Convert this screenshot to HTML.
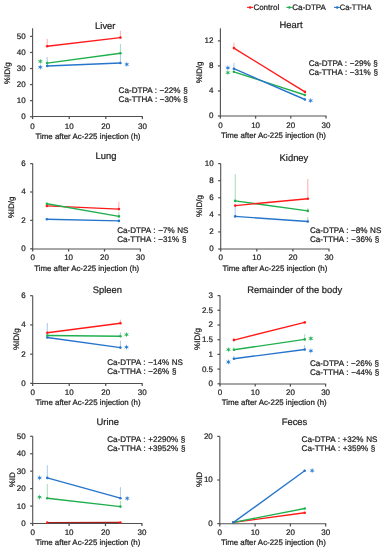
<!DOCTYPE html>
<html><head><meta charset="utf-8"><style>
html,body{margin:0;padding:0;background:#fff;}
svg{display:block;font-family:"Liberation Sans", sans-serif;will-change:transform;filter:blur(0.35px);}
text{text-rendering:geometricPrecision;}
</style></head><body>
<svg width="382" height="550" viewBox="0 0 382 550">
<rect width="382" height="550" fill="#fff"/>
<line x1="32.60" y1="28.37" x2="32.60" y2="117.00" stroke="#505050" stroke-width="1.1" />
<line x1="32.10" y1="116.50" x2="142.90" y2="116.50" stroke="#505050" stroke-width="1.1" />
<line x1="30.10" y1="116.70" x2="32.60" y2="116.70" stroke="#505050" stroke-width="1.25" />
<line x1="30.10" y1="100.64" x2="32.60" y2="100.64" stroke="#505050" stroke-width="1.25" />
<line x1="30.10" y1="84.58" x2="32.60" y2="84.58" stroke="#505050" stroke-width="1.25" />
<line x1="30.10" y1="68.52" x2="32.60" y2="68.52" stroke="#505050" stroke-width="1.25" />
<line x1="30.10" y1="52.46" x2="32.60" y2="52.46" stroke="#505050" stroke-width="1.25" />
<line x1="30.10" y1="36.40" x2="32.60" y2="36.40" stroke="#505050" stroke-width="1.25" />
<line x1="32.60" y1="116.50" x2="32.60" y2="119.10" stroke="#505050" stroke-width="1.25" />
<line x1="69.20" y1="116.50" x2="69.20" y2="119.10" stroke="#505050" stroke-width="1.25" />
<line x1="105.80" y1="116.50" x2="105.80" y2="119.10" stroke="#505050" stroke-width="1.25" />
<line x1="142.40" y1="116.50" x2="142.40" y2="119.10" stroke="#505050" stroke-width="1.25" />
<text x="25.60" y="119.15" font-size="8" text-anchor="end" fill="#222" stroke="#222" stroke-width="0.22" >0</text>
<text x="25.60" y="103.09" font-size="8" text-anchor="end" fill="#222" stroke="#222" stroke-width="0.22" >10</text>
<text x="25.60" y="87.03" font-size="8" text-anchor="end" fill="#222" stroke="#222" stroke-width="0.22" >20</text>
<text x="25.60" y="70.97" font-size="8" text-anchor="end" fill="#222" stroke="#222" stroke-width="0.22" >30</text>
<text x="25.60" y="54.91" font-size="8" text-anchor="end" fill="#222" stroke="#222" stroke-width="0.22" >40</text>
<text x="25.60" y="38.85" font-size="8" text-anchor="end" fill="#222" stroke="#222" stroke-width="0.22" >50</text>
<text x="32.60" y="128.50" font-size="8" text-anchor="middle" fill="#222" stroke="#222" stroke-width="0.22" >0</text>
<text x="69.20" y="128.50" font-size="8" text-anchor="middle" fill="#222" stroke="#222" stroke-width="0.22" >10</text>
<text x="105.80" y="128.50" font-size="8" text-anchor="middle" fill="#222" stroke="#222" stroke-width="0.22" >20</text>
<text x="142.40" y="128.50" font-size="8" text-anchor="middle" fill="#222" stroke="#222" stroke-width="0.22" >30</text>
<text x="35.50" y="138.50" font-size="7.9" text-anchor="start" fill="#222" stroke="#222" stroke-width="0.22" >Time after Ac-225 injection (h)</text>
<text x="0" y="0" font-size="8" text-anchor="middle" fill="#222" stroke="#222" stroke-width="0.22" transform="translate(10.20,73.30) rotate(-90)">%ID/g</text>
<text x="95.10" y="29.00" font-size="9.4" text-anchor="start" fill="#222" stroke="#222" stroke-width="0.22" >Liver</text>
<text x="118.60" y="92.60" font-size="8.1" text-anchor="start" fill="#222" stroke="#222" stroke-width="0.22" word-spacing="0.35">Ca-DTPA : −22% §</text>
<text x="118.60" y="102.00" font-size="8.1" text-anchor="start" fill="#222" stroke="#222" stroke-width="0.22" word-spacing="0.35">Ca-TTHA : −30% §</text>
<line x1="47.20" y1="46.20" x2="47.20" y2="38.90" stroke="#ff9090" stroke-width="0.75" />
<line x1="120.40" y1="37.60" x2="120.40" y2="30.80" stroke="#ff9090" stroke-width="0.75" />
<line x1="120.40" y1="53.30" x2="120.40" y2="44.10" stroke="#80d29c" stroke-width="0.75" />
<line x1="47.20" y1="66.00" x2="47.20" y2="57.10" stroke="#88b4e4" stroke-width="0.75" />
<line x1="120.40" y1="63.00" x2="120.40" y2="53.30" stroke="#88b4e4" stroke-width="0.75" />
<line x1="47.20" y1="63.10" x2="120.40" y2="53.30" stroke="#20af4d" stroke-width="1.4" />
<line x1="47.20" y1="66.00" x2="120.40" y2="63.00" stroke="#2675cc" stroke-width="1.4" />
<line x1="47.20" y1="46.20" x2="120.40" y2="37.60" stroke="#ff1a1a" stroke-width="1.4" />
<circle cx="47.20" cy="63.10" r="1.3" fill="#20af4d"/>
<circle cx="120.40" cy="53.30" r="1.3" fill="#20af4d"/>
<circle cx="47.20" cy="66.00" r="1.3" fill="#2675cc"/>
<circle cx="120.40" cy="63.00" r="1.3" fill="#2675cc"/>
<circle cx="47.20" cy="46.20" r="1.3" fill="#ff1a1a"/>
<circle cx="120.40" cy="37.60" r="1.3" fill="#ff1a1a"/>
<polygon points="40.30,58.50 40.82,60.49 42.81,59.95 41.35,61.40 42.81,62.85 40.82,62.31 40.30,64.30 39.77,62.31 37.79,62.85 39.25,61.40 37.79,59.95 39.77,60.49" fill="#28b458"/>
<polygon points="40.30,64.30 40.82,66.29 42.81,65.75 41.35,67.20 42.81,68.65 40.82,68.11 40.30,70.10 39.77,68.11 37.79,68.65 39.25,67.20 37.79,65.75 39.77,66.29" fill="#2f80d6"/>
<polygon points="126.80,61.40 127.33,63.39 129.31,62.85 127.85,64.30 129.31,65.75 127.33,65.21 126.80,67.20 126.27,65.21 124.29,65.75 125.75,64.30 124.29,62.85 126.27,63.39" fill="#2f80d6"/>
<line x1="220.40" y1="28.36" x2="220.40" y2="116.50" stroke="#505050" stroke-width="1.1" />
<line x1="219.90" y1="116.00" x2="326.50" y2="116.00" stroke="#505050" stroke-width="1.1" />
<line x1="217.90" y1="116.00" x2="220.40" y2="116.00" stroke="#505050" stroke-width="1.25" />
<line x1="217.90" y1="90.96" x2="220.40" y2="90.96" stroke="#505050" stroke-width="1.25" />
<line x1="217.90" y1="65.92" x2="220.40" y2="65.92" stroke="#505050" stroke-width="1.25" />
<line x1="217.90" y1="40.88" x2="220.40" y2="40.88" stroke="#505050" stroke-width="1.25" />
<line x1="220.40" y1="116.00" x2="220.40" y2="118.60" stroke="#505050" stroke-width="1.25" />
<line x1="255.60" y1="116.00" x2="255.60" y2="118.60" stroke="#505050" stroke-width="1.25" />
<line x1="290.80" y1="116.00" x2="290.80" y2="118.60" stroke="#505050" stroke-width="1.25" />
<line x1="326.00" y1="116.00" x2="326.00" y2="118.60" stroke="#505050" stroke-width="1.25" />
<text x="213.40" y="118.45" font-size="8" text-anchor="end" fill="#222" stroke="#222" stroke-width="0.22" >0</text>
<text x="213.40" y="93.41" font-size="8" text-anchor="end" fill="#222" stroke="#222" stroke-width="0.22" >4</text>
<text x="213.40" y="68.37" font-size="8" text-anchor="end" fill="#222" stroke="#222" stroke-width="0.22" >8</text>
<text x="213.40" y="43.33" font-size="8" text-anchor="end" fill="#222" stroke="#222" stroke-width="0.22" >12</text>
<text x="220.40" y="128.00" font-size="8" text-anchor="middle" fill="#222" stroke="#222" stroke-width="0.22" >0</text>
<text x="255.60" y="128.00" font-size="8" text-anchor="middle" fill="#222" stroke="#222" stroke-width="0.22" >10</text>
<text x="290.80" y="128.00" font-size="8" text-anchor="middle" fill="#222" stroke="#222" stroke-width="0.22" >20</text>
<text x="326.00" y="128.00" font-size="8" text-anchor="middle" fill="#222" stroke="#222" stroke-width="0.22" >30</text>
<text x="221.00" y="137.80" font-size="7.9" text-anchor="start" fill="#222" stroke="#222" stroke-width="0.22" >Time after Ac-225 injection (h)</text>
<text x="0" y="0" font-size="8" text-anchor="middle" fill="#222" stroke="#222" stroke-width="0.22" transform="translate(201.50,72.40) rotate(-90)">%ID/g</text>
<text x="279.60" y="28.30" font-size="9.4" text-anchor="start" fill="#222" stroke="#222" stroke-width="0.22" >Heart</text>
<text x="308.70" y="65.50" font-size="8.1" text-anchor="start" fill="#222" stroke="#222" stroke-width="0.22" word-spacing="0.35">Ca-DTPA : −29% §</text>
<text x="308.70" y="74.70" font-size="8.1" text-anchor="start" fill="#222" stroke="#222" stroke-width="0.22" word-spacing="0.35">Ca-TTHA : −31% §</text>
<line x1="233.90" y1="48.10" x2="233.90" y2="42.80" stroke="#ff9090" stroke-width="0.75" />
<line x1="233.90" y1="68.70" x2="233.90" y2="62.80" stroke="#88b4e4" stroke-width="0.75" />
<line x1="233.90" y1="71.80" x2="304.90" y2="95.00" stroke="#20af4d" stroke-width="1.4" />
<line x1="233.90" y1="68.70" x2="304.90" y2="99.50" stroke="#2675cc" stroke-width="1.4" />
<line x1="233.90" y1="48.10" x2="304.90" y2="91.90" stroke="#ff1a1a" stroke-width="1.4" />
<circle cx="233.90" cy="71.80" r="1.3" fill="#20af4d"/>
<circle cx="304.90" cy="95.00" r="1.3" fill="#20af4d"/>
<circle cx="233.90" cy="68.70" r="1.3" fill="#2675cc"/>
<circle cx="304.90" cy="99.50" r="1.3" fill="#2675cc"/>
<circle cx="233.90" cy="48.10" r="1.3" fill="#ff1a1a"/>
<circle cx="304.90" cy="91.90" r="1.3" fill="#ff1a1a"/>
<polygon points="227.90,65.00 228.43,66.99 230.41,66.45 228.95,67.90 230.41,69.35 228.43,68.81 227.90,70.80 227.38,68.81 225.39,69.35 226.85,67.90 225.39,66.45 227.38,66.99" fill="#2f80d6"/>
<polygon points="227.90,69.70 228.43,71.69 230.41,71.15 228.95,72.60 230.41,74.05 228.43,73.51 227.90,75.50 227.38,73.51 225.39,74.05 226.85,72.60 225.39,71.15 227.38,71.69" fill="#28b458"/>
<polygon points="310.60,97.70 311.12,99.69 313.11,99.15 311.65,100.60 313.11,102.05 311.12,101.51 310.60,103.50 310.08,101.51 308.09,102.05 309.55,100.60 308.09,99.15 310.08,99.69" fill="#2f80d6"/>
<line x1="32.70" y1="163.60" x2="32.70" y2="249.50" stroke="#505050" stroke-width="1.1" />
<line x1="32.20" y1="249.00" x2="140.90" y2="249.00" stroke="#505050" stroke-width="1.1" />
<line x1="30.20" y1="248.80" x2="32.70" y2="248.80" stroke="#505050" stroke-width="1.25" />
<line x1="30.20" y1="220.40" x2="32.70" y2="220.40" stroke="#505050" stroke-width="1.25" />
<line x1="30.20" y1="192.00" x2="32.70" y2="192.00" stroke="#505050" stroke-width="1.25" />
<line x1="30.20" y1="163.60" x2="32.70" y2="163.60" stroke="#505050" stroke-width="1.25" />
<line x1="32.70" y1="249.00" x2="32.70" y2="251.60" stroke="#505050" stroke-width="1.25" />
<line x1="68.60" y1="249.00" x2="68.60" y2="251.60" stroke="#505050" stroke-width="1.25" />
<line x1="104.50" y1="249.00" x2="104.50" y2="251.60" stroke="#505050" stroke-width="1.25" />
<line x1="140.40" y1="249.00" x2="140.40" y2="251.60" stroke="#505050" stroke-width="1.25" />
<text x="25.70" y="251.25" font-size="8" text-anchor="end" fill="#222" stroke="#222" stroke-width="0.22" >0</text>
<text x="25.70" y="222.85" font-size="8" text-anchor="end" fill="#222" stroke="#222" stroke-width="0.22" >2</text>
<text x="25.70" y="194.45" font-size="8" text-anchor="end" fill="#222" stroke="#222" stroke-width="0.22" >4</text>
<text x="25.70" y="166.05" font-size="8" text-anchor="end" fill="#222" stroke="#222" stroke-width="0.22" >6</text>
<text x="32.70" y="260.30" font-size="8" text-anchor="middle" fill="#222" stroke="#222" stroke-width="0.22" >0</text>
<text x="68.60" y="260.30" font-size="8" text-anchor="middle" fill="#222" stroke="#222" stroke-width="0.22" >10</text>
<text x="104.50" y="260.30" font-size="8" text-anchor="middle" fill="#222" stroke="#222" stroke-width="0.22" >20</text>
<text x="140.40" y="260.30" font-size="8" text-anchor="middle" fill="#222" stroke="#222" stroke-width="0.22" >30</text>
<text x="34.20" y="270.70" font-size="7.9" text-anchor="start" fill="#222" stroke="#222" stroke-width="0.22" >Time after Ac-225 injection (h)</text>
<text x="0" y="0" font-size="8" text-anchor="middle" fill="#222" stroke="#222" stroke-width="0.22" transform="translate(13.50,207.40) rotate(-90)">%ID/g</text>
<text x="95.60" y="159.30" font-size="9.4" text-anchor="start" fill="#222" stroke="#222" stroke-width="0.22" >Lung</text>
<text x="117.20" y="232.60" font-size="8.1" text-anchor="start" fill="#222" stroke="#222" stroke-width="0.22" word-spacing="0.35">Ca-DTPA : −7% NS</text>
<text x="117.20" y="241.90" font-size="8.1" text-anchor="start" fill="#222" stroke="#222" stroke-width="0.22" word-spacing="0.35">Ca-TTHA : −31% §</text>
<line x1="118.90" y1="209.10" x2="118.90" y2="201.80" stroke="#ff9090" stroke-width="0.75" />
<line x1="118.90" y1="216.40" x2="118.90" y2="212.40" stroke="#80d29c" stroke-width="0.75" />
<line x1="46.90" y1="205.90" x2="118.90" y2="209.10" stroke="#ff1a1a" stroke-width="1.4" />
<line x1="46.90" y1="203.70" x2="118.90" y2="216.40" stroke="#20af4d" stroke-width="1.4" />
<line x1="46.90" y1="219.30" x2="118.90" y2="220.90" stroke="#2675cc" stroke-width="1.4" />
<circle cx="46.90" cy="205.90" r="1.3" fill="#ff1a1a"/>
<circle cx="118.90" cy="209.10" r="1.3" fill="#ff1a1a"/>
<circle cx="46.90" cy="203.70" r="1.3" fill="#20af4d"/>
<circle cx="118.90" cy="216.40" r="1.3" fill="#20af4d"/>
<circle cx="46.90" cy="219.30" r="1.3" fill="#2675cc"/>
<circle cx="118.90" cy="220.90" r="1.3" fill="#2675cc"/>
<line x1="220.70" y1="163.60" x2="220.70" y2="249.50" stroke="#505050" stroke-width="1.1" />
<line x1="220.20" y1="249.00" x2="329.50" y2="249.00" stroke="#505050" stroke-width="1.1" />
<line x1="218.20" y1="249.00" x2="220.70" y2="249.00" stroke="#505050" stroke-width="1.25" />
<line x1="218.20" y1="231.92" x2="220.70" y2="231.92" stroke="#505050" stroke-width="1.25" />
<line x1="218.20" y1="214.84" x2="220.70" y2="214.84" stroke="#505050" stroke-width="1.25" />
<line x1="218.20" y1="197.76" x2="220.70" y2="197.76" stroke="#505050" stroke-width="1.25" />
<line x1="218.20" y1="180.68" x2="220.70" y2="180.68" stroke="#505050" stroke-width="1.25" />
<line x1="218.20" y1="163.60" x2="220.70" y2="163.60" stroke="#505050" stroke-width="1.25" />
<line x1="220.70" y1="249.00" x2="220.70" y2="251.60" stroke="#505050" stroke-width="1.25" />
<line x1="256.80" y1="249.00" x2="256.80" y2="251.60" stroke="#505050" stroke-width="1.25" />
<line x1="292.90" y1="249.00" x2="292.90" y2="251.60" stroke="#505050" stroke-width="1.25" />
<line x1="329.00" y1="249.00" x2="329.00" y2="251.60" stroke="#505050" stroke-width="1.25" />
<text x="213.70" y="251.45" font-size="8" text-anchor="end" fill="#222" stroke="#222" stroke-width="0.22" >0</text>
<text x="213.70" y="234.37" font-size="8" text-anchor="end" fill="#222" stroke="#222" stroke-width="0.22" >2</text>
<text x="213.70" y="217.29" font-size="8" text-anchor="end" fill="#222" stroke="#222" stroke-width="0.22" >4</text>
<text x="213.70" y="200.21" font-size="8" text-anchor="end" fill="#222" stroke="#222" stroke-width="0.22" >6</text>
<text x="213.70" y="183.13" font-size="8" text-anchor="end" fill="#222" stroke="#222" stroke-width="0.22" >8</text>
<text x="213.70" y="166.05" font-size="8" text-anchor="end" fill="#222" stroke="#222" stroke-width="0.22" >10</text>
<text x="220.70" y="260.30" font-size="8" text-anchor="middle" fill="#222" stroke="#222" stroke-width="0.22" >0</text>
<text x="256.80" y="260.30" font-size="8" text-anchor="middle" fill="#222" stroke="#222" stroke-width="0.22" >10</text>
<text x="292.90" y="260.30" font-size="8" text-anchor="middle" fill="#222" stroke="#222" stroke-width="0.22" >20</text>
<text x="329.00" y="260.30" font-size="8" text-anchor="middle" fill="#222" stroke="#222" stroke-width="0.22" >30</text>
<text x="222.40" y="270.70" font-size="7.9" text-anchor="start" fill="#222" stroke="#222" stroke-width="0.22" >Time after Ac-225 injection (h)</text>
<text x="0" y="0" font-size="8" text-anchor="middle" fill="#222" stroke="#222" stroke-width="0.22" transform="translate(202.40,206.00) rotate(-90)">%ID/g</text>
<text x="279.60" y="160.60" font-size="9.4" text-anchor="start" fill="#222" stroke="#222" stroke-width="0.22" >Kidney</text>
<text x="310.00" y="232.60" font-size="8.1" text-anchor="start" fill="#222" stroke="#222" stroke-width="0.22" word-spacing="0.35">Ca-DTPA : −8% NS</text>
<text x="310.00" y="241.90" font-size="8.1" text-anchor="start" fill="#222" stroke="#222" stroke-width="0.22" word-spacing="0.35">Ca-TTHA : −36% §</text>
<line x1="307.80" y1="198.70" x2="307.80" y2="178.90" stroke="#ff9090" stroke-width="0.75" />
<line x1="235.20" y1="200.90" x2="235.20" y2="174.10" stroke="#80d29c" stroke-width="0.75" />
<line x1="307.80" y1="210.90" x2="307.80" y2="208.10" stroke="#80d29c" stroke-width="0.75" />
<line x1="235.20" y1="216.40" x2="235.20" y2="206.20" stroke="#88b4e4" stroke-width="0.75" />
<line x1="307.80" y1="221.50" x2="307.80" y2="216.90" stroke="#88b4e4" stroke-width="0.75" />
<line x1="235.20" y1="200.90" x2="307.80" y2="210.90" stroke="#20af4d" stroke-width="1.4" />
<line x1="235.20" y1="216.40" x2="307.80" y2="221.50" stroke="#2675cc" stroke-width="1.4" />
<line x1="235.20" y1="205.60" x2="307.80" y2="198.70" stroke="#ff1a1a" stroke-width="1.4" />
<circle cx="235.20" cy="200.90" r="1.3" fill="#20af4d"/>
<circle cx="307.80" cy="210.90" r="1.3" fill="#20af4d"/>
<circle cx="235.20" cy="216.40" r="1.3" fill="#2675cc"/>
<circle cx="307.80" cy="221.50" r="1.3" fill="#2675cc"/>
<circle cx="235.20" cy="205.60" r="1.3" fill="#ff1a1a"/>
<circle cx="307.80" cy="198.70" r="1.3" fill="#ff1a1a"/>
<line x1="32.70" y1="295.68" x2="32.70" y2="384.00" stroke="#505050" stroke-width="1.1" />
<line x1="32.20" y1="383.50" x2="142.70" y2="383.50" stroke="#505050" stroke-width="1.1" />
<line x1="30.20" y1="383.40" x2="32.70" y2="383.40" stroke="#505050" stroke-width="1.25" />
<line x1="30.20" y1="354.16" x2="32.70" y2="354.16" stroke="#505050" stroke-width="1.25" />
<line x1="30.20" y1="324.92" x2="32.70" y2="324.92" stroke="#505050" stroke-width="1.25" />
<line x1="30.20" y1="295.68" x2="32.70" y2="295.68" stroke="#505050" stroke-width="1.25" />
<line x1="32.70" y1="383.50" x2="32.70" y2="386.10" stroke="#505050" stroke-width="1.25" />
<line x1="69.20" y1="383.50" x2="69.20" y2="386.10" stroke="#505050" stroke-width="1.25" />
<line x1="105.70" y1="383.50" x2="105.70" y2="386.10" stroke="#505050" stroke-width="1.25" />
<line x1="142.20" y1="383.50" x2="142.20" y2="386.10" stroke="#505050" stroke-width="1.25" />
<text x="25.70" y="385.85" font-size="8" text-anchor="end" fill="#222" stroke="#222" stroke-width="0.22" >0</text>
<text x="25.70" y="356.61" font-size="8" text-anchor="end" fill="#222" stroke="#222" stroke-width="0.22" >2</text>
<text x="25.70" y="327.37" font-size="8" text-anchor="end" fill="#222" stroke="#222" stroke-width="0.22" >4</text>
<text x="25.70" y="298.13" font-size="8" text-anchor="end" fill="#222" stroke="#222" stroke-width="0.22" >6</text>
<text x="32.70" y="394.80" font-size="8" text-anchor="middle" fill="#222" stroke="#222" stroke-width="0.22" >0</text>
<text x="69.20" y="394.80" font-size="8" text-anchor="middle" fill="#222" stroke="#222" stroke-width="0.22" >10</text>
<text x="105.70" y="394.80" font-size="8" text-anchor="middle" fill="#222" stroke="#222" stroke-width="0.22" >20</text>
<text x="142.20" y="394.80" font-size="8" text-anchor="middle" fill="#222" stroke="#222" stroke-width="0.22" >30</text>
<text x="35.60" y="404.60" font-size="7.9" text-anchor="start" fill="#222" stroke="#222" stroke-width="0.22" >Time after Ac-225 injection (h)</text>
<text x="0" y="0" font-size="8" text-anchor="middle" fill="#222" stroke="#222" stroke-width="0.22" transform="translate(18.60,339.10) rotate(-90)">%ID/g</text>
<text x="92.80" y="292.50" font-size="9.4" text-anchor="start" fill="#222" stroke="#222" stroke-width="0.22" >Spleen</text>
<text x="107.20" y="365.00" font-size="8.1" text-anchor="start" fill="#222" stroke="#222" stroke-width="0.22" word-spacing="0.35">Ca-DTPA : −14% NS</text>
<text x="107.20" y="374.30" font-size="8.1" text-anchor="start" fill="#222" stroke="#222" stroke-width="0.22" word-spacing="0.35">Ca-TTHA : −26% §</text>
<line x1="120.40" y1="323.20" x2="120.40" y2="319.70" stroke="#ff9090" stroke-width="0.75" />
<line x1="120.40" y1="336.20" x2="120.40" y2="332.20" stroke="#80d29c" stroke-width="0.75" />
<line x1="47.30" y1="337.50" x2="47.30" y2="323.00" stroke="#88b4e4" stroke-width="0.75" />
<line x1="120.40" y1="347.60" x2="120.40" y2="340.60" stroke="#88b4e4" stroke-width="0.75" />
<line x1="47.30" y1="335.50" x2="120.40" y2="336.20" stroke="#20af4d" stroke-width="1.4" />
<line x1="47.30" y1="337.50" x2="120.40" y2="347.60" stroke="#2675cc" stroke-width="1.4" />
<line x1="47.30" y1="332.80" x2="120.40" y2="323.20" stroke="#ff1a1a" stroke-width="1.4" />
<circle cx="47.30" cy="335.50" r="1.3" fill="#20af4d"/>
<circle cx="120.40" cy="336.20" r="1.3" fill="#20af4d"/>
<circle cx="47.30" cy="337.50" r="1.3" fill="#2675cc"/>
<circle cx="120.40" cy="347.60" r="1.3" fill="#2675cc"/>
<circle cx="47.30" cy="332.80" r="1.3" fill="#ff1a1a"/>
<circle cx="120.40" cy="323.20" r="1.3" fill="#ff1a1a"/>
<polygon points="126.50,331.70 127.03,333.69 129.01,333.15 127.55,334.60 129.01,336.05 127.03,335.51 126.50,337.50 125.97,335.51 123.99,336.05 125.45,334.60 123.99,333.15 125.97,333.69" fill="#28b458"/>
<polygon points="126.50,344.20 127.03,346.19 129.01,345.65 127.55,347.10 129.01,348.55 127.03,348.01 126.50,350.00 125.97,348.01 123.99,348.55 125.45,347.10 123.99,345.65 125.97,346.19" fill="#2f80d6"/>
<line x1="220.00" y1="295.60" x2="220.00" y2="384.50" stroke="#505050" stroke-width="1.1" />
<line x1="219.50" y1="384.00" x2="326.10" y2="384.00" stroke="#505050" stroke-width="1.1" />
<line x1="217.50" y1="383.80" x2="220.00" y2="383.80" stroke="#505050" stroke-width="1.25" />
<line x1="217.50" y1="369.10" x2="220.00" y2="369.10" stroke="#505050" stroke-width="1.25" />
<line x1="217.50" y1="354.40" x2="220.00" y2="354.40" stroke="#505050" stroke-width="1.25" />
<line x1="217.50" y1="339.70" x2="220.00" y2="339.70" stroke="#505050" stroke-width="1.25" />
<line x1="217.50" y1="325.00" x2="220.00" y2="325.00" stroke="#505050" stroke-width="1.25" />
<line x1="217.50" y1="310.30" x2="220.00" y2="310.30" stroke="#505050" stroke-width="1.25" />
<line x1="217.50" y1="295.60" x2="220.00" y2="295.60" stroke="#505050" stroke-width="1.25" />
<line x1="220.00" y1="384.00" x2="220.00" y2="386.60" stroke="#505050" stroke-width="1.25" />
<line x1="255.20" y1="384.00" x2="255.20" y2="386.60" stroke="#505050" stroke-width="1.25" />
<line x1="290.40" y1="384.00" x2="290.40" y2="386.60" stroke="#505050" stroke-width="1.25" />
<line x1="325.60" y1="384.00" x2="325.60" y2="386.60" stroke="#505050" stroke-width="1.25" />
<text x="213.00" y="386.25" font-size="8" text-anchor="end" fill="#222" stroke="#222" stroke-width="0.22" >0</text>
<text x="213.00" y="371.55" font-size="8" text-anchor="end" fill="#222" stroke="#222" stroke-width="0.22" >0.5</text>
<text x="213.00" y="356.85" font-size="8" text-anchor="end" fill="#222" stroke="#222" stroke-width="0.22" >1</text>
<text x="213.00" y="342.15" font-size="8" text-anchor="end" fill="#222" stroke="#222" stroke-width="0.22" >1.5</text>
<text x="213.00" y="327.45" font-size="8" text-anchor="end" fill="#222" stroke="#222" stroke-width="0.22" >2</text>
<text x="213.00" y="312.75" font-size="8" text-anchor="end" fill="#222" stroke="#222" stroke-width="0.22" >2.5</text>
<text x="213.00" y="298.05" font-size="8" text-anchor="end" fill="#222" stroke="#222" stroke-width="0.22" >3</text>
<text x="220.00" y="395.30" font-size="8" text-anchor="middle" fill="#222" stroke="#222" stroke-width="0.22" >0</text>
<text x="255.20" y="395.30" font-size="8" text-anchor="middle" fill="#222" stroke="#222" stroke-width="0.22" >10</text>
<text x="290.40" y="395.30" font-size="8" text-anchor="middle" fill="#222" stroke="#222" stroke-width="0.22" >20</text>
<text x="325.60" y="395.30" font-size="8" text-anchor="middle" fill="#222" stroke="#222" stroke-width="0.22" >30</text>
<text x="221.70" y="404.60" font-size="7.9" text-anchor="start" fill="#222" stroke="#222" stroke-width="0.22" >Time after Ac-225 injection (h)</text>
<text x="0" y="0" font-size="8" text-anchor="middle" fill="#222" stroke="#222" stroke-width="0.22" transform="translate(200.00,339.00) rotate(-90)">%ID/g</text>
<text x="247.30" y="293.20" font-size="9.4" text-anchor="start" fill="#222" stroke="#222" stroke-width="0.22" >Remainder of the body</text>
<text x="310.00" y="365.80" font-size="8.1" text-anchor="start" fill="#222" stroke="#222" stroke-width="0.22" word-spacing="0.35">Ca-DTPA : −26% §</text>
<text x="310.00" y="375.10" font-size="8.1" text-anchor="start" fill="#222" stroke="#222" stroke-width="0.22" word-spacing="0.35">Ca-TTHA : −44% §</text>
<line x1="233.90" y1="340.10" x2="233.90" y2="337.50" stroke="#ff9090" stroke-width="0.75" />
<line x1="233.90" y1="349.80" x2="233.90" y2="347.30" stroke="#80d29c" stroke-width="0.75" />
<line x1="304.70" y1="339.40" x2="304.70" y2="334.20" stroke="#80d29c" stroke-width="0.75" />
<line x1="233.90" y1="358.70" x2="233.90" y2="356.00" stroke="#88b4e4" stroke-width="0.75" />
<line x1="304.70" y1="349.50" x2="304.70" y2="345.10" stroke="#88b4e4" stroke-width="0.75" />
<line x1="233.90" y1="349.80" x2="304.70" y2="339.40" stroke="#20af4d" stroke-width="1.4" />
<line x1="233.90" y1="358.70" x2="304.70" y2="349.50" stroke="#2675cc" stroke-width="1.4" />
<line x1="233.90" y1="340.10" x2="304.70" y2="322.40" stroke="#ff1a1a" stroke-width="1.4" />
<circle cx="233.90" cy="349.80" r="1.3" fill="#20af4d"/>
<circle cx="304.70" cy="339.40" r="1.3" fill="#20af4d"/>
<circle cx="233.90" cy="358.70" r="1.3" fill="#2675cc"/>
<circle cx="304.70" cy="349.50" r="1.3" fill="#2675cc"/>
<circle cx="233.90" cy="340.10" r="1.3" fill="#ff1a1a"/>
<circle cx="304.70" cy="322.40" r="1.3" fill="#ff1a1a"/>
<polygon points="228.40,346.70 228.93,348.69 230.91,348.15 229.45,349.60 230.91,351.05 228.93,350.51 228.40,352.50 227.88,350.51 225.89,351.05 227.35,349.60 225.89,348.15 227.88,348.69" fill="#28b458"/>
<polygon points="228.40,359.10 228.93,361.09 230.91,360.55 229.45,362.00 230.91,363.45 228.93,362.91 228.40,364.90 227.88,362.91 225.89,363.45 227.35,362.00 225.89,360.55 227.88,361.09" fill="#2f80d6"/>
<polygon points="310.90,335.60 311.42,337.59 313.41,337.05 311.95,338.50 313.41,339.95 311.42,339.41 310.90,341.40 310.38,339.41 308.39,339.95 309.85,338.50 308.39,337.05 310.38,337.59" fill="#28b458"/>
<polygon points="310.90,347.90 311.42,349.89 313.41,349.35 311.95,350.80 313.41,352.25 311.42,351.71 310.90,353.70 310.38,351.71 308.39,352.25 309.85,350.80 308.39,349.35 310.38,349.89" fill="#2f80d6"/>
<text x="25.70" y="525.95" font-size="8" text-anchor="end" fill="#222" stroke="#222" stroke-width="0.22" >0</text>
<text x="25.70" y="508.51" font-size="8" text-anchor="end" fill="#222" stroke="#222" stroke-width="0.22" >10</text>
<text x="25.70" y="491.07" font-size="8" text-anchor="end" fill="#222" stroke="#222" stroke-width="0.22" >20</text>
<text x="25.70" y="473.63" font-size="8" text-anchor="end" fill="#222" stroke="#222" stroke-width="0.22" >30</text>
<text x="25.70" y="456.19" font-size="8" text-anchor="end" fill="#222" stroke="#222" stroke-width="0.22" >40</text>
<text x="25.70" y="438.75" font-size="8" text-anchor="end" fill="#222" stroke="#222" stroke-width="0.22" >50</text>
<text x="32.70" y="534.80" font-size="8" text-anchor="middle" fill="#222" stroke="#222" stroke-width="0.22" >0</text>
<text x="69.10" y="534.80" font-size="8" text-anchor="middle" fill="#222" stroke="#222" stroke-width="0.22" >10</text>
<text x="105.50" y="534.80" font-size="8" text-anchor="middle" fill="#222" stroke="#222" stroke-width="0.22" >20</text>
<text x="141.90" y="534.80" font-size="8" text-anchor="middle" fill="#222" stroke="#222" stroke-width="0.22" >30</text>
<text x="35.40" y="544.60" font-size="7.9" text-anchor="start" fill="#222" stroke="#222" stroke-width="0.22" >Time after Ac-225 injection (h)</text>
<text x="0" y="0" font-size="8" text-anchor="middle" fill="#222" stroke="#222" stroke-width="0.22" transform="translate(14.50,479.70) rotate(-90)">%ID</text>
<text x="96.50" y="425.10" font-size="9.4" text-anchor="start" fill="#222" stroke="#222" stroke-width="0.22" >Urine</text>
<text x="107.20" y="441.60" font-size="8.1" text-anchor="start" fill="#222" stroke="#222" stroke-width="0.22" word-spacing="0.35">Ca-DTPA : +2290% §</text>
<text x="107.20" y="450.90" font-size="8.1" text-anchor="start" fill="#222" stroke="#222" stroke-width="0.22" word-spacing="0.35">Ca-TTHA : +3952% §</text>
<line x1="47.30" y1="498.30" x2="47.30" y2="484.10" stroke="#80d29c" stroke-width="0.75" />
<line x1="120.40" y1="506.60" x2="120.40" y2="500.90" stroke="#80d29c" stroke-width="0.75" />
<line x1="47.30" y1="477.90" x2="47.30" y2="465.20" stroke="#88b4e4" stroke-width="0.75" />
<line x1="120.40" y1="498.20" x2="120.40" y2="487.20" stroke="#88b4e4" stroke-width="0.75" />
<line x1="47.30" y1="498.30" x2="120.40" y2="506.60" stroke="#20af4d" stroke-width="1.4" />
<line x1="47.30" y1="477.90" x2="120.40" y2="498.20" stroke="#2675cc" stroke-width="1.4" />
<line x1="47.30" y1="522.60" x2="120.40" y2="522.50" stroke="#a81c1c" stroke-width="1.4" />
<line x1="32.70" y1="436.30" x2="32.70" y2="524.00" stroke="#505050" stroke-width="1.1" />
<line x1="32.20" y1="523.50" x2="142.40" y2="523.50" stroke="#505050" stroke-width="1.1" />
<line x1="30.20" y1="523.50" x2="32.70" y2="523.50" stroke="#505050" stroke-width="1.25" />
<line x1="30.20" y1="506.06" x2="32.70" y2="506.06" stroke="#505050" stroke-width="1.25" />
<line x1="30.20" y1="488.62" x2="32.70" y2="488.62" stroke="#505050" stroke-width="1.25" />
<line x1="30.20" y1="471.18" x2="32.70" y2="471.18" stroke="#505050" stroke-width="1.25" />
<line x1="30.20" y1="453.74" x2="32.70" y2="453.74" stroke="#505050" stroke-width="1.25" />
<line x1="30.20" y1="436.30" x2="32.70" y2="436.30" stroke="#505050" stroke-width="1.25" />
<line x1="32.70" y1="523.50" x2="32.70" y2="526.10" stroke="#505050" stroke-width="1.25" />
<line x1="69.10" y1="523.50" x2="69.10" y2="526.10" stroke="#505050" stroke-width="1.25" />
<line x1="105.50" y1="523.50" x2="105.50" y2="526.10" stroke="#505050" stroke-width="1.25" />
<line x1="141.90" y1="523.50" x2="141.90" y2="526.10" stroke="#505050" stroke-width="1.25" />
<circle cx="47.30" cy="498.30" r="1.3" fill="#20af4d"/>
<circle cx="120.40" cy="506.60" r="1.3" fill="#20af4d"/>
<circle cx="47.30" cy="477.90" r="1.3" fill="#2675cc"/>
<circle cx="120.40" cy="498.20" r="1.3" fill="#2675cc"/>
<circle cx="47.30" cy="522.60" r="1.3" fill="#ff1a1a"/>
<circle cx="120.40" cy="522.50" r="1.3" fill="#ff1a1a"/>
<polygon points="39.60,475.00 40.12,476.99 42.11,476.45 40.65,477.90 42.11,479.35 40.12,478.81 39.60,480.80 39.08,478.81 37.09,479.35 38.55,477.90 37.09,476.45 39.08,476.99" fill="#2f80d6"/>
<polygon points="39.60,494.20 40.12,496.19 42.11,495.65 40.65,497.10 42.11,498.55 40.12,498.01 39.60,500.00 39.08,498.01 37.09,498.55 38.55,497.10 37.09,495.65 39.08,496.19" fill="#28b458"/>
<polygon points="127.20,495.40 127.73,497.39 129.71,496.85 128.25,498.30 129.71,499.75 127.73,499.21 127.20,501.20 126.67,499.21 124.69,499.75 126.15,498.30 124.69,496.85 126.67,497.39" fill="#2f80d6"/>
<line x1="219.80" y1="436.40" x2="219.80" y2="524.30" stroke="#505050" stroke-width="1.1" />
<line x1="219.30" y1="523.80" x2="326.20" y2="523.80" stroke="#505050" stroke-width="1.1" />
<line x1="217.30" y1="523.60" x2="219.80" y2="523.60" stroke="#505050" stroke-width="1.25" />
<line x1="217.30" y1="480.00" x2="219.80" y2="480.00" stroke="#505050" stroke-width="1.25" />
<line x1="217.30" y1="436.40" x2="219.80" y2="436.40" stroke="#505050" stroke-width="1.25" />
<line x1="219.80" y1="523.80" x2="219.80" y2="526.40" stroke="#505050" stroke-width="1.25" />
<line x1="255.10" y1="523.80" x2="255.10" y2="526.40" stroke="#505050" stroke-width="1.25" />
<line x1="290.40" y1="523.80" x2="290.40" y2="526.40" stroke="#505050" stroke-width="1.25" />
<line x1="325.70" y1="523.80" x2="325.70" y2="526.40" stroke="#505050" stroke-width="1.25" />
<text x="212.80" y="526.05" font-size="8" text-anchor="end" fill="#222" stroke="#222" stroke-width="0.22" >0</text>
<text x="212.80" y="482.45" font-size="8" text-anchor="end" fill="#222" stroke="#222" stroke-width="0.22" >10</text>
<text x="212.80" y="438.85" font-size="8" text-anchor="end" fill="#222" stroke="#222" stroke-width="0.22" >20</text>
<text x="219.80" y="535.10" font-size="8" text-anchor="middle" fill="#222" stroke="#222" stroke-width="0.22" >0</text>
<text x="255.10" y="535.10" font-size="8" text-anchor="middle" fill="#222" stroke="#222" stroke-width="0.22" >10</text>
<text x="290.40" y="535.10" font-size="8" text-anchor="middle" fill="#222" stroke="#222" stroke-width="0.22" >20</text>
<text x="325.70" y="535.10" font-size="8" text-anchor="middle" fill="#222" stroke="#222" stroke-width="0.22" >30</text>
<text x="220.90" y="544.60" font-size="7.9" text-anchor="start" fill="#222" stroke="#222" stroke-width="0.22" >Time after Ac-225 injection (h)</text>
<text x="0" y="0" font-size="8" text-anchor="middle" fill="#222" stroke="#222" stroke-width="0.22" transform="translate(201.50,479.40) rotate(-90)">%ID</text>
<text x="281.70" y="424.60" font-size="9.4" text-anchor="start" fill="#222" stroke="#222" stroke-width="0.22" >Feces</text>
<text x="301.60" y="441.90" font-size="8.1" text-anchor="start" fill="#222" stroke="#222" stroke-width="0.22" word-spacing="0.35">Ca-DTPA : +32% NS</text>
<text x="301.60" y="451.20" font-size="8.1" text-anchor="start" fill="#222" stroke="#222" stroke-width="0.22" word-spacing="0.35">Ca-TTHA : +359% §</text>
<line x1="233.50" y1="522.40" x2="304.70" y2="512.70" stroke="#ff1a1a" stroke-width="1.4" />
<line x1="233.50" y1="522.40" x2="304.70" y2="508.50" stroke="#20af4d" stroke-width="1.4" />
<line x1="233.50" y1="522.40" x2="304.70" y2="470.70" stroke="#2675cc" stroke-width="1.4" />
<circle cx="233.50" cy="522.40" r="1.3" fill="#ff1a1a"/>
<circle cx="304.70" cy="512.70" r="1.3" fill="#ff1a1a"/>
<circle cx="233.50" cy="522.40" r="1.3" fill="#20af4d"/>
<circle cx="304.70" cy="508.50" r="1.3" fill="#20af4d"/>
<circle cx="233.50" cy="522.40" r="1.3" fill="#2675cc"/>
<circle cx="304.70" cy="470.70" r="1.3" fill="#2675cc"/>
<polygon points="312.10,467.70 312.62,469.69 314.61,469.15 313.15,470.60 314.61,472.05 312.62,471.51 312.10,473.50 311.58,471.51 309.59,472.05 311.05,470.60 309.59,469.15 311.58,469.69" fill="#2f80d6"/>
<line x1="247.10" y1="7.40" x2="253.10" y2="7.40" stroke="#ff1a1a" stroke-width="1.1" />
<circle cx="250.1" cy="7.4" r="1.25" fill="#ff1a1a"/>
<text x="253.40" y="10.20" font-size="8" text-anchor="start" fill="#222" stroke="#222" stroke-width="0.22" >Control</text>
<line x1="286.40" y1="7.40" x2="292.30" y2="7.40" stroke="#20af4d" stroke-width="1.1" />
<circle cx="289.4" cy="7.4" r="1.25" fill="#20af4d"/>
<text x="292.30" y="10.20" font-size="8" text-anchor="start" fill="#222" stroke="#222" stroke-width="0.22" >Ca-DTPA</text>
<line x1="334.10" y1="7.40" x2="340.00" y2="7.40" stroke="#2675cc" stroke-width="1.1" />
<circle cx="337.1" cy="7.4" r="1.25" fill="#2675cc"/>
<text x="339.80" y="10.20" font-size="8" text-anchor="start" fill="#222" stroke="#222" stroke-width="0.22" textLength="31.6" lengthAdjust="spacingAndGlyphs">Ca-TTHA</text>
</svg>
</body></html>
